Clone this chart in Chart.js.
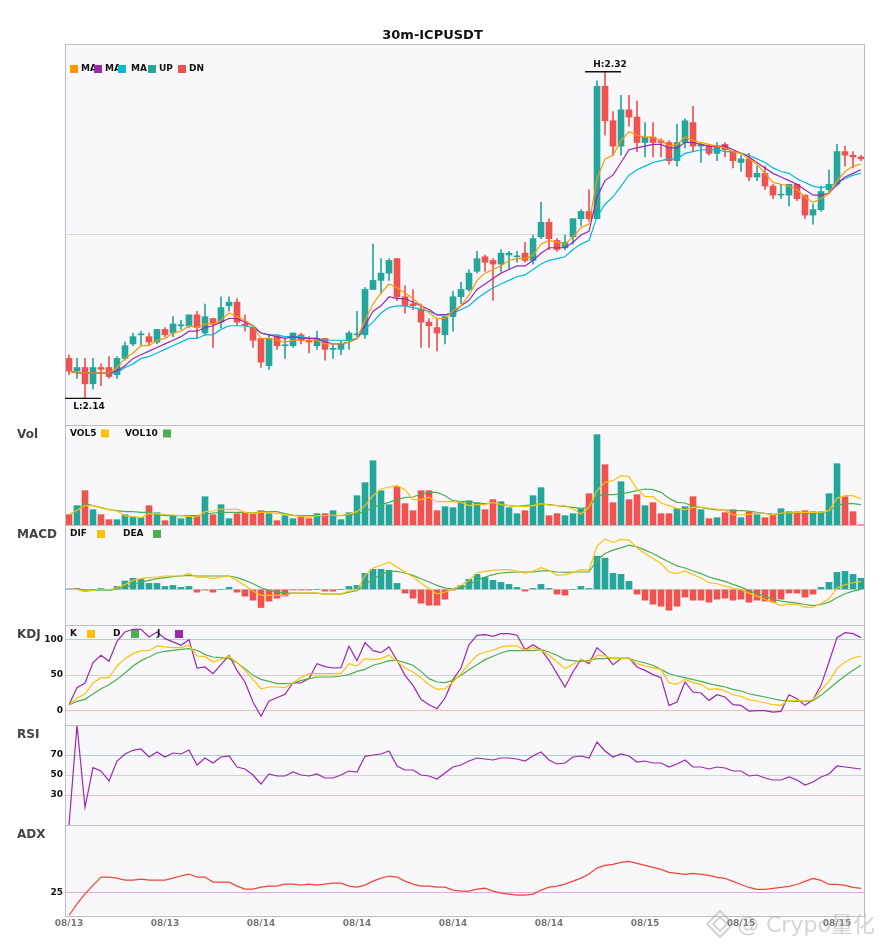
<!DOCTYPE html>
<html>
<head>
<meta charset="utf-8">
<title>30m-ICPUSDT</title>
<script src="https://cdn.jsdelivr.net/npm/chart.js@4.4.1/dist/chart.umd.min.js"></script>
<style>
  body { margin: 0; background: #fff; }
  canvas { display: block; }
</style>
</head>
<body>
<canvas id="klineChart" width="885" height="950"></canvas>
<script>
// 30m ICPUSDT candles, 100 bars starting 08/13 12:00
const opens = [
  2.162,2.155,2.157,2.148,2.157,2.157,2.153,2.162,2.170,2.175,
  2.174,2.171,2.178,2.176,2.180,2.180,2.186,2.176,2.184,2.182,
  2.191,2.193,2.181,2.179,2.173,2.158,2.174,2.169,2.169,2.175,
  2.172,2.169,2.173,2.167,2.167,2.172,2.175,2.175,2.200,2.205,
  2.209,2.217,2.196,2.192,2.189,2.182,2.179,2.175,2.185,2.196,
  2.200,2.210,2.218,2.216,2.214,2.219,2.218,2.220,2.216,2.229,
  2.237,2.227,2.223,2.229,2.239,2.243,2.239,2.312,2.293,2.279,
  2.299,2.295,2.281,2.284,2.282,2.281,2.271,2.281,2.292,2.279,
  2.279,2.275,2.280,2.276,2.270,2.272,2.262,2.264,2.257,2.252,
  2.252,2.258,2.252,2.241,2.244,2.255,2.258,2.276,2.274,2.273
];
const highs = [
  2.164,2.162,2.162,2.162,2.159,2.163,2.163,2.171,2.176,2.177,
  2.176,2.178,2.179,2.185,2.183,2.186,2.188,2.192,2.184,2.196,
  2.196,2.195,2.186,2.180,2.173,2.175,2.175,2.173,2.176,2.176,
  2.174,2.177,2.173,2.170,2.172,2.177,2.188,2.201,2.225,2.217,
  2.217,2.217,2.202,2.200,2.192,2.184,2.184,2.185,2.199,2.204,
  2.211,2.221,2.219,2.217,2.222,2.221,2.221,2.226,2.230,2.248,
  2.239,2.228,2.230,2.239,2.244,2.255,2.315,2.320,2.298,2.307,
  2.307,2.304,2.292,2.292,2.283,2.282,2.291,2.294,2.301,2.281,
  2.280,2.281,2.281,2.276,2.274,2.275,2.268,2.268,2.258,2.258,
  2.258,2.258,2.252,2.247,2.257,2.266,2.280,2.279,2.276,2.274
];
const lows = [
  2.153,2.151,2.140,2.145,2.147,2.151,2.151,2.161,2.169,2.169,
  2.169,2.170,2.174,2.174,2.178,2.179,2.173,2.175,2.168,2.179,
  2.188,2.180,2.177,2.168,2.157,2.156,2.167,2.162,2.168,2.170,
  2.165,2.167,2.161,2.162,2.164,2.167,2.174,2.173,2.200,2.198,
  2.205,2.194,2.187,2.189,2.168,2.168,2.166,2.170,2.177,2.192,
  2.199,2.209,2.210,2.194,2.210,2.211,2.215,2.215,2.214,2.228,
  2.222,2.221,2.222,2.225,2.235,2.238,2.239,2.285,2.274,2.274,
  2.290,2.276,2.273,2.273,2.273,2.269,2.268,2.278,2.276,2.270,
  2.274,2.271,2.273,2.267,2.265,2.260,2.260,2.255,2.250,2.250,
  2.246,2.249,2.239,2.236,2.243,2.253,2.257,2.268,2.267,2.271
];
const closes = [
  2.155,2.157,2.148,2.157,2.156,2.152,2.162,2.169,2.174,2.175,
  2.171,2.178,2.175,2.181,2.180,2.186,2.179,2.185,2.181,2.190,
  2.193,2.182,2.180,2.172,2.160,2.173,2.169,2.169,2.176,2.172,
  2.171,2.173,2.167,2.167,2.170,2.176,2.175,2.200,2.205,2.209,
  2.216,2.196,2.191,2.191,2.182,2.180,2.176,2.185,2.196,2.200,
  2.209,2.217,2.215,2.214,2.220,2.220,2.218,2.216,2.228,2.237,
  2.228,2.222,2.226,2.239,2.243,2.239,2.312,2.293,2.279,2.299,
  2.295,2.281,2.284,2.281,2.281,2.271,2.281,2.293,2.279,2.280,
  2.275,2.279,2.277,2.271,2.272,2.262,2.264,2.257,2.252,2.252,
  2.258,2.250,2.241,2.244,2.254,2.258,2.276,2.274,2.273,2.272
];
const ma5 = [
  2.155,2.154,2.154,2.154,2.154,2.154,2.157,2.162,2.165,2.169,
  2.169,2.172,2.173,2.176,2.177,2.180,2.179,2.181,2.181,2.183,
  2.187,2.185,2.183,2.180,2.173,2.173,2.172,2.171,2.172,2.172,
  2.172,2.172,2.170,2.170,2.170,2.171,2.173,2.183,2.192,2.198,
  2.203,2.201,2.198,2.195,2.191,2.187,2.184,2.184,2.188,2.191,
  2.197,2.205,2.209,2.211,2.213,2.216,2.217,2.217,2.219,2.225,
  2.227,2.226,2.225,2.229,2.234,2.236,2.261,2.272,2.274,2.282,
  2.287,2.285,2.284,2.284,2.282,2.279,2.280,2.284,2.282,2.281,
  2.280,2.279,2.278,2.276,2.275,2.272,2.269,2.264,2.259,2.258,
  2.257,2.255,2.251,2.248,2.250,2.253,2.260,2.265,2.268,2.269
];
const ma10 = [
  2.155,2.154,2.154,2.154,2.154,2.154,2.155,2.158,2.162,2.164,
  2.166,2.168,2.170,2.172,2.174,2.177,2.177,2.179,2.180,2.182,
  2.184,2.184,2.182,2.180,2.176,2.175,2.174,2.173,2.174,2.173,
  2.173,2.173,2.171,2.170,2.170,2.171,2.173,2.180,2.188,2.191,
  2.196,2.195,2.195,2.193,2.191,2.189,2.186,2.186,2.187,2.191,
  2.194,2.200,2.203,2.206,2.209,2.211,2.213,2.213,2.216,2.220,
  2.223,2.223,2.223,2.226,2.230,2.232,2.251,2.260,2.263,2.270,
  2.277,2.278,2.279,2.280,2.280,2.278,2.278,2.281,2.281,2.280,
  2.279,2.279,2.279,2.277,2.275,2.273,2.270,2.267,2.264,2.262,
  2.260,2.258,2.255,2.252,2.252,2.253,2.258,2.262,2.264,2.266
];
const ma20 = [
  2.155,2.154,2.154,2.154,2.154,2.154,2.154,2.157,2.159,2.162,
  2.163,2.165,2.167,2.169,2.171,2.173,2.173,2.175,2.175,2.178,
  2.180,2.180,2.180,2.179,2.176,2.175,2.175,2.174,2.174,2.174,
  2.173,2.173,2.172,2.172,2.172,2.172,2.173,2.178,2.182,2.187,
  2.190,2.191,2.191,2.190,2.189,2.188,2.186,2.186,2.187,2.189,
  2.191,2.195,2.198,2.201,2.203,2.205,2.207,2.208,2.211,2.214,
  2.216,2.217,2.218,2.222,2.225,2.227,2.240,2.247,2.251,2.257,
  2.263,2.266,2.268,2.270,2.271,2.272,2.272,2.275,2.276,2.277,
  2.277,2.277,2.276,2.276,2.275,2.274,2.272,2.270,2.267,2.265,
  2.264,2.261,2.259,2.257,2.256,2.257,2.259,2.261,2.263,2.264
];
// volume in thousands
const volumes = [
  31,58,103,46,31,16,16,31,25,22,
  58,37,13,28,19,25,28,85,31,61,
  19,34,37,34,43,34,13,28,19,25,
  19,34,34,43,16,37,88,127,193,103,
  61,115,64,43,103,103,43,55,52,70,
  73,67,46,76,70,52,34,43,88,112,
  28,34,28,34,49,94,271,181,67,130,
  76,91,58,67,34,34,49,55,85,46,
  19,22,37,46,22,40,31,22,31,49,
  40,40,43,40,40,94,184,85,40,1
];
const vol5 = [
  31,44,58,58,52,46,42,28,25,22,
  34,34,31,30,28,26,24,40,42,48,
  46,48,37,35,38,38,34,31,28,26,
  23,28,28,30,28,33,40,58,88,108,
  114,118,106,76,76,83,70,70,70,68,
  58,61,61,68,61,58,56,55,58,64,
  60,58,58,48,33,53,103,128,133,148,
  145,108,85,85,66,58,50,46,53,53,
  51,48,43,31,30,32,36,34,30,36,
  36,38,38,38,38,43,80,88,88,78
];
const vol10 = [
  31,44,64,58,52,46,43,40,40,38,
  38,31,28,28,28,28,28,33,36,38,
  38,38,38,36,40,40,40,34,30,28,
  28,28,28,28,28,30,34,40,53,61,
  68,76,83,84,93,98,98,88,73,70,
  70,66,64,66,61,58,56,58,61,63,
  61,58,56,53,50,53,88,91,91,93,
  98,103,108,106,98,80,68,66,56,53,
  48,45,45,43,43,42,38,35,33,33,
  36,36,36,36,36,43,58,65,64,61
];
const macdHist = [
  0.0001,0.0003,-0.0005,0,0.0003,-0.0002,0.0009,0.0025,0.0033,0.0030,
  0.0018,0.0018,0.0009,0.0012,0.0006,0.0009,-0.0008,-0.0002,-0.0008,0,
  0.0006,-0.0008,-0.0020,-0.0032,-0.0054,-0.0035,-0.0026,-0.0020,-0.0002,-0.0002,
  -0.0002,0,-0.0005,-0.0005,0,0.0009,0.0012,0.0048,0.0060,0.0060,
  0.0057,0.0018,-0.0011,-0.0026,-0.0041,-0.0047,-0.0047,-0.0029,-0.0002,0.0012,
  0.0030,0.0045,0.0036,0.0027,0.0021,0.0015,0.0006,-0.0005,0.0003,0.0015,
  0.0003,-0.0014,-0.0017,0,0.0009,0.0003,0.0099,0.0093,0.0048,0.0045,
  0.0024,-0.0014,-0.0032,-0.0044,-0.0050,-0.0062,-0.0050,-0.0023,-0.0032,-0.0032,
  -0.0038,-0.0029,-0.0026,-0.0032,-0.0029,-0.0038,-0.0032,-0.0035,-0.0038,-0.0029,
  -0.0011,-0.0011,-0.0023,-0.0014,0.0006,0.0021,0.0051,0.0054,0.0045,0.0033
];
const dif = [
  0,0,-0.0005,-0.0003,0,-0.0001,0.0005,0.0015,0.0027,0.0032,
  0.0035,0.0037,0.0040,0.0040,0.0040,0.0048,0.0036,0.0037,0.0032,0.0037,
  0.0040,0.0027,0.0012,-0.0005,-0.0018,-0.0018,-0.0018,-0.0018,-0.0011,-0.0011,
  -0.0011,-0.0011,-0.0014,-0.0015,-0.0013,-0.0005,-0.0003,0.0042,0.0064,0.0072,
  0.0081,0.0067,0.0052,0.0037,0.0019,0.0002,-0.0013,-0.0008,0.0002,0.0012,
  0.0027,0.0049,0.0054,0.0057,0.0059,0.0059,0.0055,0.0048,0.0055,0.0065,
  0.0057,0.0042,0.0044,0.0050,0.0059,0.0057,0.0129,0.0150,0.0140,0.0149,
  0.0147,0.0124,0.0107,0.0092,0.0077,0.0052,0.0047,0.0055,0.0044,0.0034,
  0.0020,0.0017,0.0010,0.0004,-0.0001,-0.0011,-0.0020,-0.0030,-0.0038,-0.0048,
  -0.0043,-0.0045,-0.0053,-0.0053,-0.0041,-0.0028,0.0004,0.0014,0.0020,0.0024
];
const dea = [
  0,0,-0.0002,-0.0003,-0.0002,-0.0002,0.0002,0.0006,0.0014,0.0022,
  0.0027,0.0032,0.0035,0.0038,0.0040,0.0042,0.0040,0.0040,0.0040,0.0040,
  0.0040,0.0035,0.0027,0.0017,0.0005,-0.0003,-0.0008,-0.0011,-0.0011,-0.0011,
  -0.0011,-0.0011,-0.0014,-0.0014,-0.0014,-0.0008,-0.0004,0.0014,0.0030,0.0045,
  0.0054,0.0054,0.0049,0.0042,0.0032,0.0022,0.0012,0.0004,0.0002,0.0004,
  0.0014,0.0027,0.0037,0.0044,0.0049,0.0051,0.0052,0.0052,0.0052,0.0055,
  0.0055,0.0052,0.0051,0.0052,0.0052,0.0052,0.0087,0.0107,0.0117,0.0124,
  0.0132,0.0127,0.0117,0.0107,0.0094,0.0082,0.0070,0.0064,0.0055,0.0047,
  0.0037,0.0030,0.0024,0.0015,0.0007,-0.0003,-0.0013,-0.0020,-0.0030,-0.0035,
  -0.0038,-0.0041,-0.0045,-0.0048,-0.0045,-0.0038,-0.0025,-0.0013,-0.0005,0
];
const kdjK = [
  8.4,17.8,23.4,38.8,46.3,46.3,62.6,72.9,79.9,84.1,
  84.1,90.7,89.3,88.3,88.3,91.6,76.6,75.7,68.2,72.0,
  76.6,67.3,56.5,43.9,30.8,33.2,33.2,32.2,39.3,46.3,
  51.9,51.9,51.9,51.9,51.9,65.9,62.6,72.9,71.5,72.9,
  77.6,69.2,59.8,54.2,46.3,36.4,29.9,30.8,40.2,51.9,
  65.9,77.6,82.2,84.6,89.3,90.7,90.7,84.6,88.3,84.6,
  77.6,68.2,58.9,65.0,72.0,68.2,77.6,76.6,72.9,72.9,
  72.9,65.9,62.6,60.3,57.5,39.3,36.9,43.9,39.3,36.9,
  29.4,30.8,27.6,22.4,20.1,15.4,13.6,11.2,8.4,7.5,
  14.5,14.5,13.1,15.4,28.5,41.1,58.9,68.2,73.8,76.6
];
const kdjD = [
  8.4,13.1,15.9,23.4,30.8,36.4,43.9,52.8,62.6,70.1,
  75.2,80.8,83.2,84.6,86.0,86.9,84.6,78.5,75.2,74.3,
  72.9,67.3,58.9,49.5,43.9,41.1,37.9,37.9,38.8,42.1,
  44.9,47.2,47.2,47.2,48.6,50.5,55.1,57.9,63.6,66.4,
  70.1,70.6,67.3,63.6,55.1,44.9,40.2,39.3,42.5,49.5,
  57.5,64.5,71.5,76.2,80.8,84.1,84.1,84.1,84.1,85.5,
  82.2,77.6,71.5,70.1,69.2,70.6,72.9,72.9,73.8,73.8,
  72.9,69.6,66.8,63.6,57.5,51.9,48.6,46.3,43.5,41.1,
  37.9,35.5,33.2,29.9,27.6,23.8,21.5,19.2,16.8,14.5,
  13.6,13.1,13.1,14.0,21.5,30.8,40.2,48.6,56.5,63.6
];
const kdjJ = [
  8.4,32.2,38.8,67.3,77.6,69.2,97.2,110.3,114.0,114.0,
  103.3,110.3,100.9,96.3,91.6,99.5,59.8,61.2,51.9,64.5,
  77.6,56.5,40.2,12.1,-7.9,13.6,18.2,22.9,39.3,38.8,
  44.9,65.9,61.7,59.8,60.3,90.2,70.1,95.3,84.1,81.3,
  89.3,70.6,49.5,35.5,15.9,8.4,2.8,17.8,43.5,59.8,
  92.5,105.6,106.5,104.2,107.9,107.9,105.6,85.5,92.5,85.5,
  70.6,51.9,33.2,54.2,72.0,65.9,88.3,78.5,64.5,72.9,
  73.8,61.2,56.5,50.5,46.3,7.5,12.1,40.2,26.2,24.8,
  14.5,22.4,19.2,8.4,7.5,-0.5,0,0,-1.9,-0.9,
  22.4,16.8,7.5,15.4,35.5,68.2,102.3,109.3,107.9,102.3
];
const rsi = [
  0,100,17.7,57.3,54,44,64,71,74.7,76,
  68,73,68,72,71,75,60,67,62,68,
  69,58,56,50,41,51,49,49,53,50,
  49,51,47,47,50,54,53,68.7,70,71,
  74,59,55,55,50,49,46,52,58,60,
  64,67,66,65,67,67,66,64,69,73,
  65,61,62,68,69,67,83,74,68,71,
  69,63,64,62,62,58,61,65,58,58,
  56,58,57,54,54,49,50,47,45,45,
  48,45,40,43,48,51,59,58,57,56
];
const adx = [
  0,12.9,24,33.2,42.5,42.5,41.3,39.1,39.1,40.2,
  39.1,39.1,39.1,41.3,43.6,45.8,42.5,42.5,36.9,36.9,
  36.9,32.5,29.2,29.2,31.4,32.5,32.5,34.7,34.7,33.6,
  34.7,33.6,34.7,35.8,35.8,32.5,31.4,33.6,38.0,41.3,
  43.6,42.5,38.0,34.7,32.5,32.5,31.4,31.4,28.1,26.9,
  26.9,29.2,30.3,26.9,24.7,23.6,22.5,22.5,23.6,28.1,
  31.4,32.5,34.7,38.0,41.3,45.8,52.4,55.4,56.5,58.7,
  59.8,57.6,55.4,53.2,50.9,47.6,46.5,45.4,46.5,45.4,
  44.3,42.1,41.0,37.7,34.3,31.0,28.8,28.8,29.9,31.0,
  32.1,34.3,37.7,41.0,38.8,34.3,34.3,33.2,31.0,29.9
];
const tickLabels = ['08/13','08/13','08/14','08/14','08/14','08/14','08/15','08/15','08/15'];
const tickStep = 12;

// candle times, 30 min apart
const times = opens.map((_, i) => {
  const m = 12 * 60 + i * 30;
  const hm = m % 1440;
  return '08/' + (13 + Math.floor(m / 1440)) + ' ' +
    String(Math.floor(hm / 60)).padStart(2, '0') + ':' + String(hm % 60).padStart(2, '0');
});

const UP = '#26a69a', DN = '#ef5350';
const ORANGE = '#ff9800', PURPLE = '#9c27b0', CYAN = '#00bcd4';
const AMBER = '#ffc107', GREEN = '#4caf50', ADXRED = '#f44336';
const FONT = '"DejaVu Sans", "Noto Sans CJK SC", sans-serif';

const candleColors = closes.map((c, i) => c >= opens[i] ? UP : DN);
const histColors = macdHist.map(v => v >= 0 ? UP : DN);

function line(label, data, color, yAxisID) {
  return { type: 'line', label, data, yAxisID, borderColor: color, borderWidth: 1.2,
           pointRadius: 0, tension: 0, fill: false, order: 0 };
}
function bars(label, data, colors, yAxisID, thickness) {
  return { type: 'bar', label, data, yAxisID, backgroundColor: colors, barThickness: thickness,
           grouped: false, borderWidth: 0, order: 1 };
}

// a pane: stacked y axis with fixed grid lines
function pane(weight, min, max, lines, showLabels) {
  const vals = lines.map(l => l[0]);
  return {
    type: 'linear', position: 'left', stack: 'panes', stackWeight: weight,
    min, max, bounds: 'data',
    border: { display: false },
    afterBuildTicks: s => { s.ticks = vals.map(v => ({ value: v })); },
    afterFit: s => { s.width = 65; },
    grid: {
      drawTicks: false,
      color: c => { const k = c.tick ? vals.indexOf(c.tick.value) : -1; return k >= 0 ? lines[k][1] : 'transparent'; }
    },
    ticks: {
      display: showLabels, padding: 2, color: '#111',
      font: { family: FONT, size: 9, weight: 'bold' }
    }
  };
}

const panelIds = ['yP', 'yV', 'yM', 'yK', 'yR', 'yA'];

const panelPlugin = {
  id: 'panels',
  beforeDraw(chart) {
    const { ctx, chartArea: a } = chart;
    ctx.save();
    ctx.fillStyle = '#f8f8fb';
    ctx.fillRect(a.left, a.top, a.right - a.left, a.bottom - a.top);
    ctx.restore();
  },
  afterDraw(chart) {
    const { ctx, chartArea: a, scales } = chart;
    ctx.save();
    ctx.strokeStyle = '#bdbdc6';
    ctx.lineWidth = 1;
    panelIds.forEach(id => {
      const s = scales[id];
      ctx.strokeRect(Math.round(a.left) + 0.5, Math.round(s.top) + 0.5,
                     Math.round(a.right - a.left) - 1, Math.round(s.bottom - s.top));
    });

    // pane names
    ctx.fillStyle = '#444';
    ctx.font = 'bold 12px ' + FONT;
    ctx.textBaseline = 'middle';
    ctx.textAlign = 'left';
    [['yV', 'Vol'], ['yM', 'MACD'], ['yK', 'KDJ'], ['yR', 'RSI'], ['yA', 'ADX']].forEach(([id, name]) => {
      ctx.fillText(name, 17, scales[id].top + 10);
    });

    // legends
    const L = a.left;
    ctx.font = 'bold 9px ' + FONT;
    const txt = (t, x, y) => { ctx.fillStyle = '#111'; ctx.fillText(t, x, y); };
    const box = (x, y, c) => { ctx.fillStyle = c; ctx.fillRect(x, y - 4, 8, 8); };
    let y = scales.yP.top + 25;
    txt('MA', L + 16, y); txt('MA', L + 40, y); txt('MA', L + 66, y); txt('UP', L + 94, y); txt('DN', L + 124, y);
    box(L + 5, y, ORANGE); box(L + 29, y, PURPLE); box(L + 53, y, CYAN); box(L + 83, y, UP); box(L + 113, y, DN);
    y = scales.yV.top + 8.5;
    txt('VOL5', L + 5, y); box(L + 36, y, AMBER); txt('VOL10', L + 60, y); box(L + 98, y, GREEN);
    y = scales.yM.top + 9;
    txt('DIF', L + 5, y); box(L + 32, y, AMBER); txt('DEA', L + 58, y); box(L + 88, y, GREEN);
    y = scales.yK.top + 9;
    txt('K', L + 5, y); box(L + 22, y, AMBER); txt('D', L + 48, y); box(L + 66, y, GREEN);
    txt('J', L + 92, y); box(L + 110, y, PURPLE);

    // high / low markers
    const xs = scales.x, yP = scales.yP;
    const hi = highs.indexOf(Math.max(...highs));
    const lo = lows.indexOf(Math.min(...lows));
    ctx.strokeStyle = '#111';
    ctx.lineWidth = 1.3;
    ctx.fillStyle = '#111';
    ctx.textAlign = 'center';
    let cx = xs.getPixelForValue(hi), cy = yP.getPixelForValue(highs[hi]);
    ctx.beginPath(); ctx.moveTo(cx - 20, cy); ctx.lineTo(cx + 16, cy); ctx.stroke();
    ctx.fillText('H:' + highs[hi].toFixed(2), cx + 5, cy - 7.5);
    cx = xs.getPixelForValue(lo); cy = yP.getPixelForValue(lows[lo]);
    ctx.beginPath(); ctx.moveTo(cx - 20, cy); ctx.lineTo(cx + 16, cy); ctx.stroke();
    ctx.fillText('L:' + lows[lo].toFixed(2), cx + 4, cy + 8.5);

    // watermark
    ctx.globalAlpha = 0.5;
    ctx.strokeStyle = '#aaa';
    ctx.lineWidth = 2;
    [[720, 924, 13], [720, 924, 7]].forEach(([x0, y0, r]) => {
      ctx.beginPath();
      ctx.moveTo(x0, y0 - r); ctx.lineTo(x0 + r, y0); ctx.lineTo(x0, y0 + r); ctx.lineTo(x0 - r, y0);
      ctx.closePath(); ctx.stroke();
    });
    ctx.fillStyle = '#aaa';
    ctx.textAlign = 'left';
    ctx.textBaseline = 'alphabetic';
    ctx.font = '22px ' + FONT;
    ctx.fillText('@ Crypo量化', 737, 932);
    ctx.restore();
  }
};

new Chart(document.getElementById('klineChart'), {
  type: 'bar',
  data: {
    labels: times,
    datasets: [
      bars('wick', highs.map((h, i) => [lows[i], h]), candleColors, 'yP', 1),
      Object.assign(bars('candle', opens.map((o, i) => [o, closes[i]]), candleColors, 'yP', 6), { minBarLength: 1 }),
      line('MA5', ma5, ORANGE, 'yP'),
      line('MA10', ma10, PURPLE, 'yP'),
      line('MA20', ma20, CYAN, 'yP'),
      bars('Vol', volumes, candleColors, 'yV', 6),
      line('VOL5', vol5, AMBER, 'yV'),
      line('VOL10', vol10, GREEN, 'yV'),
      bars('MACD', macdHist, histColors, 'yM', 6),
      line('DIF', dif, AMBER, 'yM'),
      line('DEA', dea, GREEN, 'yM'),
      line('K', kdjK, AMBER, 'yK'),
      line('D', kdjD, GREEN, 'yK'),
      line('J', kdjJ, PURPLE, 'yK'),
      line('RSI', rsi, PURPLE, 'yR'),
      line('ADX', adx, ADXRED, 'yA')
    ]
  },
  options: {
    responsive: false,
    animation: false,
    layout: { padding: { top: 0, left: 0, right: 20, bottom: 14.5 } },
    plugins: {
      legend: { display: false },
      tooltip: { enabled: false },
      title: {
        display: true, text: '30m-ICPUSDT', color: '#111',
        font: { family: FONT, size: 13, weight: 'bold' },
        padding: { top: 28, bottom: 0.4 }
      }
    },
    scales: {
      x: {
        type: 'category', offset: true,
        grid: { display: false }, border: { display: false },
        afterFit: s => { s.height = 20; },
        ticks: {
          autoSkip: false, maxRotation: 0, minRotation: 0, padding: -5, color: '#777',
          font: { family: FONT, size: 9, weight: 'bold' },
          callback: (v, i) => i % tickStep === 0 ? tickLabels[i / tickStep] : ''
        }
      },
      // listed bottom to top: left stacked axes are placed in reverse order
      yA: pane(90.5, 0, 100, [[25, '#e3a8ea']], true),
      yR: pane(100, 0, 100, [[30, '#f7b9b9'], [50, '#d2d2d6'], [70, '#9ed8d0']], true),
      yK: pane(100, -20, 120, [[0, '#f7b9b9'], [50, '#d2d2d6'], [100, '#9ed8d0']], true),
      yM: pane(100, -0.0106, 0.0192, [[0, '#d2d2d6']], false),
      yV: pane(100, 0, 300, [], false),
      yP: pane(381, 2.1253, 2.3353, [[2.2303, '#dcdce0']], false)
    }
  },
  plugins: [panelPlugin]
});
</script>
</body>
</html>
